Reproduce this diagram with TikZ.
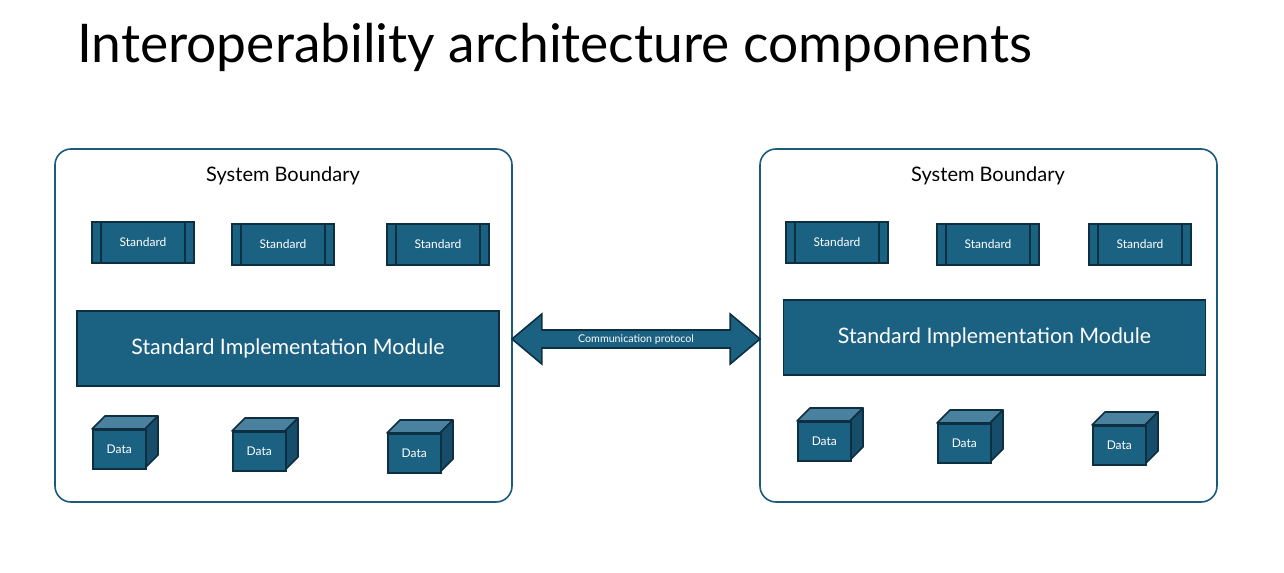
\documentclass[tikz,border=0pt]{standalone}
\usepackage{fontspec}
\setmainfont{Lato}
\usetikzlibrary{shapes.arrows}
\definecolor{fillb}{HTML}{1B6182}
\definecolor{edge}{HTML}{0E2F42}
\definecolor{topf}{HTML}{4A819E}
\definecolor{sidef}{HTML}{154D6A}
\definecolor{bnd}{HTML}{1B5A7A}
\begin{document}
\begin{tikzpicture}[x=0.75pt,y=-0.75pt,
  boundary/.style={draw=bnd,line width=1.2pt,rounded corners=12pt,fill=white},
  std/.style={draw=edge,line width=1.2pt,fill=fillb,minimum width=76.5pt,minimum height=30.75pt,text=white,font=\fontsize{9}{10}\selectfont,inner sep=0pt},
  sim/.style={draw=edge,line width=1.2pt,fill=fillb,minimum width=316.5pt,minimum height=56.25pt,text=white,font=\fontsize{16}{18}\selectfont,inner sep=0pt},
  lbl/.style={font=\fontsize{15}{17}\selectfont}]
\useasboundingbox (0,0) rectangle (1284,573);
\node[anchor=base west,font=\fontsize{40}{44}\selectfont,inner sep=0pt] (title) at (77,63) {Interoperability architecture components};
\newcommand{\stdbox}[3]{%
  \node[std] (#1) at (#2,#3) {Standard};
  \draw[edge,line width=1.2pt] ([xshift=7.5pt]#1.north west) -- ([xshift=7.5pt]#1.south west)
    ([xshift=-7.5pt]#1.north east) -- ([xshift=-7.5pt]#1.south east);}
\newcommand{\cube}[3]{% name, x left, y top of front
  \coordinate (#1) at (#2,#3);
  \fill[topf,draw=edge,line width=1.2pt,line join=round] (#2,#3) -- ++(13,-13) -- ++(53,0) -- ++(-13,13) -- cycle;
  \fill[sidef,draw=edge,line width=1.2pt,line join=round] (#2+53,#3) -- ++(13,-13) -- ++(0,39) -- ++(-13,13) -- cycle;
  \node[draw=edge,line width=1.2pt,fill=fillb,minimum width=39.75pt,minimum height=29.25pt,inner sep=0pt,anchor=north west,text=white,font=\fontsize{9}{10}\selectfont] (#1f) at (#2,#3) {Data};}
% left
\draw[boundary] (55,149) rectangle (512,502);
\node[lbl] (lb) at (283,176) {System Boundary};
\stdbox{ls1}{143}{242.5}
\stdbox{ls2}{283}{244.5}
\stdbox{ls3}{438}{244.5}
\node[sim] (lsim) at (288,348.5) {Standard Implementation Module};
\cube{ld1}{92}{429}
\cube{ld2}{232}{431}
\cube{ld3}{387}{433}
% right
\draw[boundary] (760,149) rectangle (1217,502);
\node[lbl] (rb) at (988,176) {System Boundary};
\stdbox{rs1}{837}{242.5}
\stdbox{rs2}{988}{244.5}
\stdbox{rs3}{1140}{244.5}
\node[sim] (rsim) at (994.5,337.5) {Standard Implementation Module};
\cube{rd1}{797}{421}
\cube{rd2}{937}{423}
\cube{rd3}{1092}{425}
% arrow
\node[double arrow,draw=edge,line width=1.2pt,fill=fillb,minimum width=37.5pt,minimum height=186pt,double arrow head extend=11pt,double arrow tip angle=80,inner sep=2pt,text=white,font=\fontsize{8}{9}\selectfont] (arr) at (636,339) {Communication protocol};
\end{tikzpicture}
\end{document}
